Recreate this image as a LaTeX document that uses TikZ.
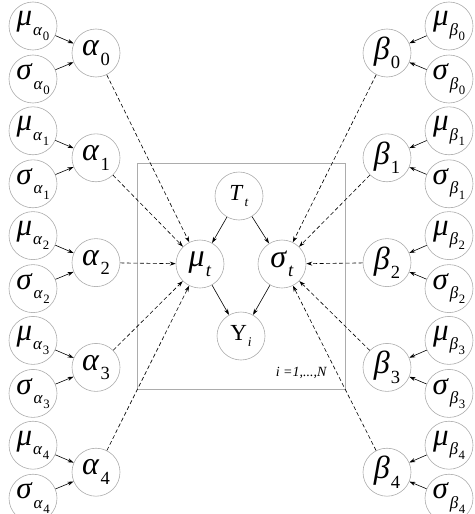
\documentclass[tikz,border=0pt]{standalone}
\usepackage{fontspec}
\setmainfont{Liberation Serif}
\usepackage{tikz}
\usetikzlibrary{arrows.meta}

\newcommand{\sub}[2][0.58]{\kern1pt\raisebox{-0.3em}{\scalebox{#1}{#2}}}

\tikzset{
  rv/.style={circle, draw=gray!65, line width=0.6pt, minimum size=48pt, inner sep=0pt,
    font=\fontsize{32}{32}\selectfont},
  hyp/.style={rv, font=\fontsize{31}{31}\selectfont},
  obs/.style={rv, font=\fontsize{23}{23}\selectfont},
  hyparrow/.style={-{Stealth[length=6pt,width=4pt]}, line width=0.6pt},
  priorarrow/.style={hyparrow, dash pattern=on 4pt off 2.5pt},
}

\begin{document}
\begin{tikzpicture}[x=1pt, y=-1pt]
  \useasboundingbox (0,0) rectangle (474,514);

  % plate
  \draw[gray!65, line width=0.8pt] (137,163) rectangle (345,389);
  \node[anchor=east, font=\fontsize{14}{14}\selectfont\itshape] (range) at (330,373) {i =1,...,N};

  \node[obs] (T) at (239,196) {\textit{T}\sub{\textit{t}}};
  \node[rv] (mu) at (200,264) {\textit{μ}\sub{\textit{t}}};
  \node[rv] (sigma) at (282,264) {\textit{σ}\sub{\textit{t}}};
  \node[obs] (Y) at (241,336) {Y\sub{\textit{i}}};

  \draw[hyparrow] (T) -- (mu);
  \draw[hyparrow] (T) -- (sigma);
  \draw[hyparrow] (mu) -- (Y);
  \draw[hyparrow] (sigma) -- (Y);

  % alpha and beta priors with their hyperpriors
  \foreach \k in {0,...,4} {
    \pgfmathsetmacro{\yc}{53+104.8*\k}
    \pgfmathsetmacro{\yu}{\yc-27}
    \pgfmathsetmacro{\ys}{\yc+26}
    \node[rv] (a\k) at (96,\yc) {\textit{α}\sub{\k}};
    \node[hyp] (mua\k) at (33,\yu) {\textit{μ}\sub[0.55]{\textit{α}\sub[0.75]{\k}}};
    \node[hyp] (sa\k) at (33,\ys) {\textit{σ}\sub[0.55]{\textit{α}\sub[0.75]{\k}}};
    \node[rv] (b\k) at (387,\yc) {\textit{β}\sub{\k}};
    \node[hyp] (mub\k) at (449,\yu) {\textit{μ}\sub[0.55]{\textit{β}\sub[0.75]{\k}}};
    \node[hyp] (sb\k) at (449,\ys) {\textit{σ}\sub[0.55]{\textit{β}\sub[0.75]{\k}}};
    \draw[hyparrow] (mua\k) -- (a\k);
    \draw[hyparrow] (sa\k) -- (a\k);
    \draw[hyparrow] (mub\k) -- (b\k);
    \draw[hyparrow] (sb\k) -- (b\k);
    \draw[priorarrow] (a\k) -- (mu);
    \draw[priorarrow] (b\k) -- (sigma);
  }
\end{tikzpicture}
\end{document}
